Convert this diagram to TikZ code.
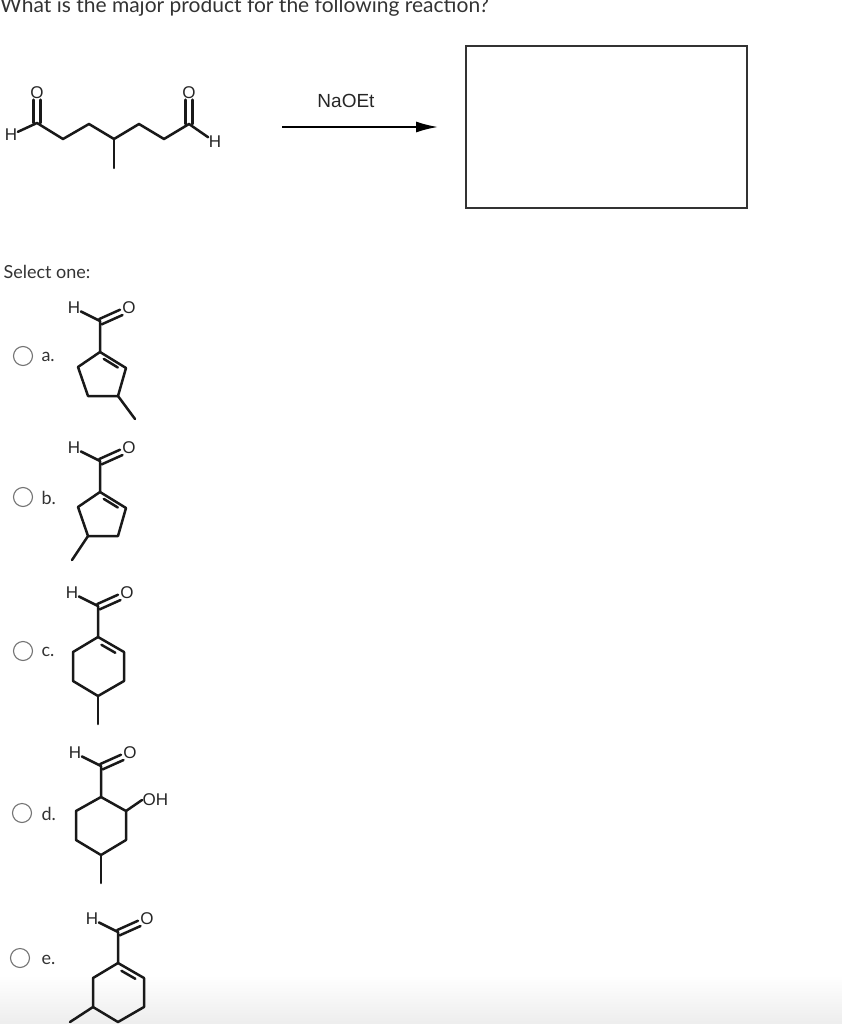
\documentclass[tikz,border=0pt]{standalone}
\usepackage{fontspec}
\setmainfont{Lato}
\newfontfamily\chemf{Liberation Sans}
\usetikzlibrary{calc,arrows.meta}
\tikzset{bond/.style={line width=2.5pt,line cap=round,line join=round,draw=black!90},
atom/.style={font=\chemf\fontsize{17}{17}\selectfont,inner sep=0.5pt,text=black!85},
radio/.style={circle,draw=black!55,line width=1.1pt,minimum size=19pt,inner sep=0pt},
opt/.style={font=\fontsize{18}{18}\selectfont,text=black!80,anchor=west}}
\newcommand{\dbl}[3]{\draw[bond,shorten <=4pt,shorten >=4pt] ($(#1)!0.2!(#3)$) -- ($(#2)!0.2!(#3)$);}
% aldehyde on ring atom #1 with prefix #2
\newcommand{\ald}[2]{%
\coordinate (#2k) at ($(#1)+(0,-31)$);
\node[atom] (#2H) at ($(#1)+(-26,-44)$) {H};
\node[atom] (#2O) at ($(#1)+(29,-44)$) {O};
\coordinate (#2e) at ($(#2k)!0.72!(#2O.center)$);
\draw[bond] (#1) -- (#2k) -- (#2H);
\draw[bond] ($(#2k)+(-0.9,-1.9)$) -- ($(#2e)+(-0.9,-1.9)$);
\draw[bond] ($(#2k)+(1.6,3.4)$) -- ($(#2e)+(1.6,3.4)$);}
\begin{document}
\begin{tikzpicture}[x=1pt,y=-1pt]
\useasboundingbox (0,0) rectangle (842,1024);
\shade[top color=white,bottom color=black!7] (0,975) rectangle (842,1024);
\node[anchor=base west,inner sep=0,font=\fontsize{21}{21}\selectfont,text=black!80] (q) at (0,13) {What is the major product for the following reaction?};
% reactant
\coordinate (r1) at (37,123);\coordinate (r2) at (63,139);\coordinate (r3) at (89,124);
\coordinate (r4) at (114,139);\coordinate (r5) at (139,124);\coordinate (r6) at (164,139);
\coordinate (r7) at (189,124);\coordinate (rm) at (114,168);
\node[atom] (rH1) at (11,135) {H};\node[atom] (rO1) at (37,93) {O};
\node[atom] (rH2) at (215,142) {H};\node[atom] (rO2) at (189,93) {O};
\draw[bond] (rH1) -- (r1) -- (r2) -- (r3) -- (r4) -- (r5) -- (r6) -- (r7) -- (rH2);
\draw[bond] (r4) -- (rm);
\draw[bond] ($(r1)+(-3.5,0)$) -- ($(rO1.south)+(-3.5,0)$);
\draw[bond] ($(r1)+(3.5,0)$) -- ($(rO1.south)+(3.5,0)$);
\draw[bond] ($(r7)+(-3.5,0)$) -- ($(rO2.south)+(-3.5,0)$);
\draw[bond] ($(r7)+(3.5,0)$) -- ($(rO2.south)+(3.5,0)$);
% arrow
\coordinate (ar1) at (282,127);\coordinate (ar2) at (438,127);
\draw[line width=1.8pt,-{Latex[length=22pt,width=11pt]}] (ar1) -- (ar2);
\node[atom,font=\chemf\fontsize{19}{19}\selectfont] (naoet) at (346,101) {NaOEt};
\node[draw=black!80,line width=2pt,minimum width=281pt,minimum height=162pt] (box) at (606.5,127) {};
\node[opt,font=\fontsize{18}{18}\selectfont] (sel) at (0,272) {Select one:};
% a
\node[radio] (ca) at (23,356) {};\node[opt] (la) at (38,357) {a.};
\coordinate (a1) at (100,352);\coordinate (a2) at (126,368);\coordinate (a3) at (118,396);
\coordinate (a4) at (88,396);\coordinate (a5) at (78,367);\coordinate (act) at (102,376);
\draw[bond] (a1)--(a2)--(a3)--(a4)--(a5)--cycle; \draw[bond] (a3)--(135,419);
\dbl{a1}{a2}{act}\ald{a1}{A}
% b
\node[radio] (cb) at (23,497) {};\node[opt] (lb) at (38,498) {b.};
\coordinate (b1) at (100,492);\coordinate (b2) at (126,508);\coordinate (b3) at (118,536);
\coordinate (b4) at (88,536);\coordinate (b5) at (78,507);\coordinate (bct) at (102,516);
\draw[bond] (b1)--(b2)--(b3)--(b4)--(b5)--cycle; \draw[bond] (b4)--(72,560);
\dbl{b1}{b2}{bct}\ald{b1}{B}
% c
\node[radio] (cc) at (23,651) {};\node[opt] (lc) at (38,652) {c.};
\coordinate (c1) at (98,637);\coordinate (c2) at (124,652);\coordinate (c3) at (124,681);
\coordinate (c4) at (98,696);\coordinate (c5) at (73,681);\coordinate (c6) at (73,652);\coordinate (cct) at (98,666);
\draw[bond] (c1)--(c2)--(c3)--(c4)--(c5)--(c6)--cycle; \draw[bond] (c4)--(98,724);
\dbl{c1}{c2}{cct}\ald{c1}{C}
% d
\node[radio] (cd) at (22,813) {};\node[opt] (ld) at (38,814) {d.};
\coordinate (d1) at (101,797);\coordinate (d2) at (126,811);\coordinate (d3) at (126,840);
\coordinate (d4) at (101,855);\coordinate (d5) at (76,840);\coordinate (d6) at (76,811);
\draw[bond] (d1)--(d2)--(d3)--(d4)--(d5)--(d6)--cycle; \draw[bond] (d4)--(101,883);
\node[atom,anchor=west] (dOH) at (142,800) {OH};
\draw[bond] (d2)--(dOH.west);
\ald{d1}{D}
% e
\node[radio] (ce) at (20,958) {};\node[opt] (le) at (38,960) {e.};
\coordinate (e1) at (118,963);\coordinate (e2) at (144,978);\coordinate (e3) at (144,1007);
\coordinate (e4) at (118,1022);\coordinate (e5) at (93,1007);\coordinate (e6) at (93,978);\coordinate (ect) at (118,992);
\draw[bond] (e1)--(e2)--(e3)--(e4)--(e5)--(e6)--cycle; \draw[bond] (e5)--(70,1022);
\dbl{e1}{e2}{ect}\ald{e1}{E}
\end{tikzpicture}
\end{document}
